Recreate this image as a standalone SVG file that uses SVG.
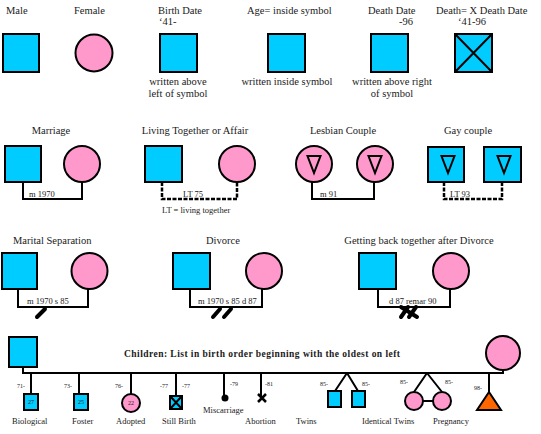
<svg xmlns="http://www.w3.org/2000/svg" width="541" height="434" viewBox="0 0 541 434">
<style>
text{font-family:"Liberation Serif","Times New Roman",serif;fill:#1a1a1a}
.t{font-size:10.5px}
.s{font-size:8.5px}
.xs{font-size:6px}
.b{font-size:9.5px;font-weight:bold}
.m{fill:#00ccff;stroke:#000;stroke-width:2}
.f{fill:#ff99cc;stroke:#000;stroke-width:2}
.ln{fill:none;stroke:#000;stroke-width:2}
.dl{fill:none;stroke:#000;stroke-width:2.5;stroke-dasharray:4 1.5}
.tri{fill:none;stroke:#000;stroke-width:2;stroke-linejoin:miter}
.cut{stroke:#000;stroke-width:4;stroke-linecap:round}
</style>
<rect width="541" height="434" fill="#fff"/>

<!-- Row 1 -->
<g id="male"><text class="t" x="6" y="14">Male</text><rect class="m" x="3" y="34" width="36" height="38"/></g>
<g id="female"><text class="t" x="74" y="14">Female</text><circle class="f" cx="94" cy="53" r="18.5"/></g>
<g id="birth"><text class="t" x="158" y="14">Birth Date</text><text class="t" x="159" y="25">‘41-</text><rect class="m" x="160" y="34" width="37" height="38"/><text class="t" x="178" y="85" text-anchor="middle">written above</text><text class="t" x="178" y="97" text-anchor="middle">left of symbol</text></g>
<g id="age"><text class="t" x="247" y="14">Age= inside symbol</text><rect class="m" x="268" y="34" width="37" height="38"/><text class="t" x="287" y="85" text-anchor="middle">written inside symbol</text></g>
<g id="death"><text class="t" x="368" y="14">Death Date</text><text class="t" x="399" y="25">-96</text><rect class="m" x="371" y="34" width="37" height="38"/><text class="t" x="392" y="85" text-anchor="middle">written above right</text><text class="t" x="392" y="97" text-anchor="middle">of symbol</text></g>
<g id="deathx"><text class="t" x="436" y="14">Death= X Death Date</text><text class="t" x="458" y="25">‘41-96</text><rect class="m" x="455" y="34" width="37" height="38"/><path class="ln" d="M455 34L492 72M492 34L455 72"/></g>

<!-- Row 2 -->
<g id="marriage"><text class="t" x="51" y="134" text-anchor="middle">Marriage</text><rect class="m" x="5" y="146" width="36" height="36"/><circle class="f" cx="82" cy="164" r="18"/></g>
<g id="livingtogether"><text class="t" x="195" y="134" text-anchor="middle">Living Together or Affair</text><rect class="m" x="145" y="146" width="37" height="36"/><circle class="f" cx="237" cy="164" r="18"/><text class="s" x="162" y="213">LT = living together</text></g>
<g id="lesbian"><text class="t" x="343" y="134" text-anchor="middle">Lesbian Couple</text><circle class="f" cx="314" cy="164" r="18"/><path class="tri" d="M307.5 156H320.5L314 173Z"/><circle class="f" cx="375" cy="164" r="18"/><path class="tri" d="M368.5 156H381.5L375 173Z"/></g>
<g id="gay"><text class="t" x="468" y="134" text-anchor="middle">Gay couple</text><rect class="m" x="428" y="147" width="36" height="35"/><path class="tri" d="M441.5 156H454.5L448 173Z"/><rect class="m" x="484" y="147" width="37" height="35"/><path class="tri" d="M497.5 156H510.5L504 173Z"/></g>

<!-- Row 3 -->
<g id="separation"><text class="t" x="13" y="244">Marital Separation</text><rect class="m" x="2" y="253" width="35" height="36"/><circle class="f" cx="89.5" cy="271" r="18"/></g>
<g id="divorce"><text class="t" x="206" y="244">Divorce</text><rect class="m" x="173" y="253" width="37" height="36"/><circle class="f" cx="264" cy="271" r="18"/></g>
<g id="reunion"><text class="t" x="419" y="244" text-anchor="middle">Getting back together after Divorce</text><rect class="m" x="359" y="253" width="37" height="36"/><circle class="f" cx="451" cy="271" r="18"/></g>

<!-- Row 4 -->
<g id="father"><rect class="m" x="9" y="337" width="28" height="30"/></g>
<g id="mother"><circle class="f" cx="503" cy="353" r="17"/></g>
<text class="b" x="124" y="357" textLength="276" lengthAdjust="spacing">Children: List in birth order beginning with the oldest on left</text>
<g id="biological"><rect class="m" x="24" y="394" width="14" height="16"/><text class="xs" x="31" y="404" text-anchor="middle">27</text><text class="xs" x="17" y="388">71-</text><text class="s" x="12" y="424">Biological</text></g>
<g id="foster"><rect class="m" x="74" y="394" width="14" height="16"/><text class="xs" x="81" y="404" text-anchor="middle">25</text><text class="xs" x="64" y="388">73-</text><text class="s" x="72" y="424">Foster</text></g>
<g id="adopted"><circle class="f" cx="131" cy="403" r="9"/><text class="xs" x="131" y="405" text-anchor="middle">22</text><text class="xs" x="115" y="388">76-</text><text class="s" x="116" y="424">Adopted</text></g>
<g id="stillbirth"><rect class="m" x="170" y="396" width="12" height="13"/><path class="ln" d="M170 396L182 409M182 396L170 409" stroke-width="1.5"/><text class="xs" x="160" y="388">-77</text><text class="xs" x="182" y="388">-77</text><text class="s" x="162" y="424">Still Birth</text></g>
<g id="miscarriage"><circle cx="225" cy="398" r="3.5" fill="#000"/><text class="xs" x="230" y="386">-79</text><text class="s" x="203" y="413">Miscarriage</text></g>
<g id="abortion"><path d="M258 394L266 402M266 394L258 402" stroke="#000" stroke-width="2.5"/><text class="xs" x="265" y="386">-81</text><text class="s" x="245" y="424">Abortion</text></g>
<g id="twins"><rect class="m" x="328" y="391" width="13" height="16"/><rect class="m" x="352" y="391" width="13" height="16"/><text class="xs" x="320" y="386">85-</text><text class="xs" x="362" y="386">85-</text><text class="s" x="296" y="424">Twins</text></g>
<g id="identicaltwins"><circle class="f" cx="414" cy="401" r="9"/><circle class="f" cx="442" cy="401" r="9"/><text class="xs" x="400" y="384">85-</text><text class="xs" x="445" y="384">85-</text><text class="s" x="362" y="424">Identical Twins</text></g>
<g id="pregnancy"><path d="M489 392L501 410H477Z" fill="#ff6600" stroke="#000" stroke-width="2"/><text class="xs" x="474" y="390">98-</text><text class="s" x="433" y="424">Pregnancy</text></g>

<g id="connectors">
<path class="ln" d="M23 182V199H82V182"/>
<text class="s" x="29" y="197">m 1970</text>
<path class="dl" d="M162 182V199H237V182"/>
<text class="s" x="183" y="197">LT 75</text>
<path class="ln" d="M312 182V199H374V182"/>
<text class="s" x="320" y="197">m 91</text>
<path class="dl" d="M444 182V199H502V182"/>
<text class="s" x="450" y="197">LT 93</text>

<path class="ln" d="M18 289V307H88V289"/>
<text class="s" x="27" y="304">m 1970 s 85</text>
<line class="cut" x1="37" y1="317" x2="45" y2="309"/>
<path class="ln" d="M190 289V307H262V289"/>
<text class="s" x="198" y="304">m 1970 s 85 d 87</text>
<line class="cut" x1="213" y1="317" x2="220" y2="309"/>
<line class="cut" x1="224" y1="317" x2="231" y2="309"/>
<path class="ln" d="M378 289V307H450V289"/>
<text class="s" x="389" y="304">d 87 remar 90</text>
<line class="cut" x1="401" y1="317" x2="408" y2="307"/>
<line class="cut" x1="409" y1="317" x2="416" y2="307"/>
<line class="cut" x1="401" y1="307" x2="417" y2="317"/>

<path class="ln" d="M23 367V373H503V370"/>
<path class="ln" d="M31 373V394M79 373V394M131 373V394M176 373V396M224 373V396M261 373V396"/>
<path class="ln" d="M347 373L335 391M347 373L358 391"/>
<path class="ln" d="M427 373L414 392M427 373L442 392M423 401H433"/>
<path class="ln" d="M489 373V392"/>
</g>
</svg>
